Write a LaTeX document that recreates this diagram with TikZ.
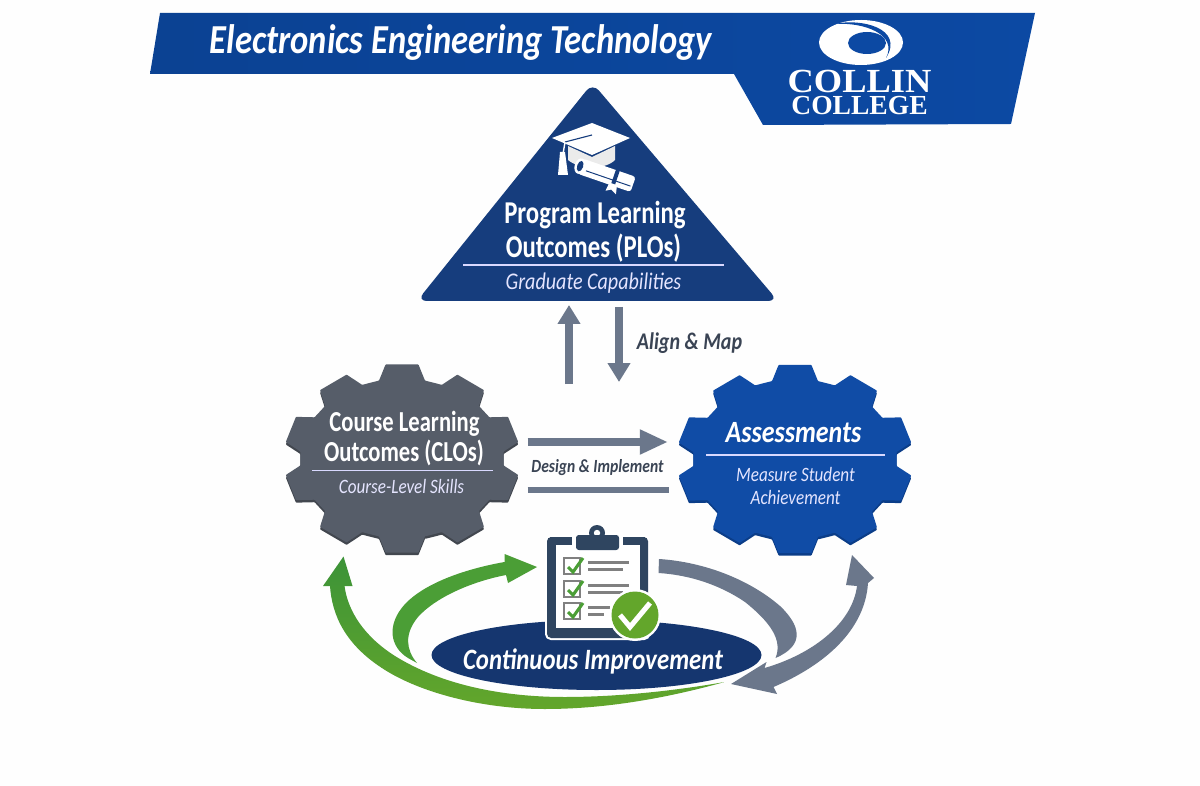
\documentclass[tikz,border=0pt]{standalone}
\usepackage{fontspec}
\setmainfont[FakeStretch=0.84]{Carlito}
\newfontfamily\narrowfont[FakeStretch=0.78]{Carlito}
\newfontfamily\logofont{Liberation Serif}
\newfontfamily\logowidefont[FakeStretch=1.08]{Liberation Serif}
\usetikzlibrary{arrows.meta}

\definecolor{bannerblue}{HTML}{0C49A3}
\definecolor{navyblue}{HTML}{163D7D}
\definecolor{ovalblue}{HTML}{15366F}
\definecolor{geargray}{HTML}{565D69}
\definecolor{gearedgegray}{HTML}{42474F}
\definecolor{gearblue}{HTML}{104CA6}
\definecolor{gearedgeblue}{HTML}{0B3D88}
\definecolor{arrowgray}{HTML}{6B778B}
\definecolor{labelgray}{HTML}{3A4454}
\definecolor{boardgray}{HTML}{2F4560}
\definecolor{leafgreen}{HTML}{4B9E36}
\definecolor{limegreen}{HTML}{63A62B}
\definecolor{darkgreen}{HTML}{3C9338}

% one gear: centre x, centre y, colour
\newcommand{\gearbody}[3]{%
  \fill[#3, rounded corners=0.5pt] ({#1+102*cos(77)},{#2+80*sin(77)})
    \foreach \a in {90,126,...,414} {
      -- ({#1+102*cos(\a-13)},{#2+80*sin(\a-13)})
      -- ({#1+118*cos(\a-8)},{#2+95*sin(\a-8)})
      -- ({#1+118*cos(\a+8)},{#2+95*sin(\a+8)})
      -- ({#1+102*cos(\a+13)},{#2+80*sin(\a+13)})
    } -- cycle;
}

\begin{document}
\begin{tikzpicture}[
  x=0.025cm, y=-0.025cm,
  headtext/.style={text=white, font=\narrowfont\fontsize{22.6}{22.6}\selectfont\bfseries, inner sep=0pt},
  gearhead/.style={text=white, font=\narrowfont\fontsize{20.6}{20.6}\selectfont\bfseries, inner sep=0pt},
  subtext/.style={text=white!90!blue, font=\fontsize{14.5}{14.5}\selectfont\itshape, inner sep=0pt},
  rule/.style={white!85!blue, line width=0.8pt},
  blockarr/.style={arrowgray, line width=5.4pt, -{Triangle[length=13.5pt, width=15.5pt]}},
  arrlabel/.style={text=labelgray, font=\fontsize{13.2}{13.2}\selectfont\bfseries\itshape, inner sep=0pt}
]
\useasboundingbox (0,0) rectangle (1200,786);
\fill[white!99.5!black] (0,0) rectangle (1200,786);

% Banner
\shade[left color=bannerblue!90!black, right color=bannerblue]
  (160,13) -- (1035,13) -- (1011,124) -- (763,125) -- (734,74) -- (150,74) -- cycle;
\node[text=white, inner sep=0pt, font=\fontsize{29.3}{29.3}\selectfont\bfseries\itshape] (title) at (461,43) {Electronics Engineering Technology};

% Logo
\fill[white] (861,42.5) ellipse (42 and 22.5);
\fill[bannerblue] (867,43) ellipse (19 and 11);
\fill[bannerblue] (835,24) .. controls (860,18) and (905,28) .. (886,58) .. controls (898,35) and (865,22) .. cycle;
\node[text=white, inner sep=0pt, align=center, font=\bfseries] (logotext) at (859.5,92.5) {\logowidefont\fontsize{24}{16}\selectfont COLLIN\\[1.6pt]\logofont\fontsize{19.6}{16}\selectfont COLLEGE};

% Triangle
\fill[navyblue, rounded corners=7pt] (592.5,83) -- (778,301) -- (417,301) -- cycle;

% Hat and diploma
\fill[white] (552,138) -- (592,123) -- (630,138) -- (592,155) -- cycle;
\fill[white!92!black] (568,146) -- (592,157) -- (615,146) -- (615,160) .. controls (605,170) and (580,170) .. (568,160) -- cycle;
\draw[navyblue, line width=0.8pt] (592,135) -- (565,142);
\draw[white, line width=1pt] (565,142) -- (563,154);
\fill[white] (560,152) -- (565,152) -- (568,175) -- (558,175) -- cycle;
\begin{scope}[shift={(606,174)}, rotate=-19]
  \fill[white, rounded corners=2pt] (-27,-7) rectangle (29,9);
  \draw[navyblue, line width=0.7pt] (-20,3.5) -- (27,3.5);
  \fill[white] (-27,1) ellipse (5.5 and 8);
  \fill[navyblue] (-27,1) ellipse (3 and 5.5);
  \fill[navyblue] (8,-8) rectangle (12,10);
  \fill[white] (6,7) -- (14,7) -- (16,16) -- (10,13) -- (5,16) -- cycle;
\end{scope}

\node[headtext] (plotop) at (595,215) {Program Learning};
\node[headtext] (plobot) at (593.5,248) {Outcomes (PLOs)};
\draw[rule] (463,265) -- (724,265);
\node[subtext, font=\fontsize{17}{17}\selectfont\itshape] (plosub) at (593.5,283) {Graduate Capabilities};

% Vertical arrows
\coordinate (upfoot) at (569,384);
\coordinate (uptip) at (569,305);
\coordinate (downtop) at (619,307);
\coordinate (downtip) at (619,382);
\draw[blockarr] (upfoot) -- (uptip);
\draw[blockarr] (downtop) -- (downtip);
\node[arrlabel, font=\fontsize{17}{17}\selectfont\bfseries\itshape] (align) at (689.5,343) {Align \& Map};

% Gears
\gearbody{402}{461}{gearedgegray}
\gearbody{402}{458.5}{geargray}
\gearbody{795}{461.5}{gearedgeblue}
\gearbody{795}{459}{gearblue}

% Gear texts
\node[gearhead] (clotop) at (404.5,424) {Course Learning};
\node[gearhead] (clobot) at (404,453) {Outcomes (CLOs)};
\draw[rule] (312,470.5) -- (493,470.5);
\node[subtext] (closub) at (401.5,486) {Course-Level Skills};

\node[headtext, font=\fontsize{22}{22}\selectfont\bfseries\itshape] (assess) at (793.5,433) {Assessments};
\draw[rule] (706,455) -- (885,455);
\node[subtext] (assub1) at (795.5,474) {Measure Student};
\node[subtext] (assub2) at (795.5,497) {Achievement};

% Horizontal arrows
\coordinate (desleft) at (527.5,442);
\coordinate (desright) at (668,442);
\coordinate (barleft) at (527.5,490);
\coordinate (barright) at (668.5,490);
\draw[blockarr, -{Triangle[length=20pt, width=16.5pt]}] (desleft) -- (desright);
\draw[arrowgray, line width=4.6pt] (barleft) -- (barright);
\node[arrlabel] (design) at (597.5,468) {Design \& Implement};

% Oval
\fill[ovalblue] (596.5,655) ellipse (165 and 35);

% Outer green arrow
\shade[top color=darkgreen, bottom color=limegreen]
  (724.5,682) .. controls (660,700) and (600,709) .. (545,709)
  .. controls (480,709) and (420,692) .. (385,670)
  .. controls (345,645) and (332,615) .. (330,586)
  -- (323,586) -- (343.5,556.5) -- (352.5,586) -- (344.5,586)
  .. controls (348,612) and (365,637) .. (395,656)
  .. controls (440,684) and (500,697) .. (565,697)
  .. controls (620,697) and (680,690) .. (724.5,682) -- cycle;

% Inner green arrow
\fill[leafgreen]
  (417,663) -- (408,658)
  .. controls (390,647) and (386,625) .. (405,604)
  .. controls (425,583) and (465,569) .. (504.5,562)
  -- (504.5,554) -- (537,567) -- (508,583) -- (506,575)
  .. controls (470,582) and (435,598) .. (418,617)
  .. controls (404,634) and (406,650) .. (417,663) -- cycle;

% Gray arrows
\fill[arrowgray]
  (659,559) .. controls (705,562) and (750,580) .. (780,606)
  .. controls (800,625) and (806,645) .. (775.5,658)
  .. controls (783,640) and (770,622) .. (745,602)
  .. controls (720,585) and (690,575) .. (658.5,573) -- cycle;
\fill[arrowgray]
  (731,684) -- (766.5,662) -- (764.5,668)
  .. controls (810,655) and (852,625) .. (857,586)
  -- (846,585) -- (852,555) -- (874,578) -- (868,583)
  .. controls (865,630) and (825,665) .. (773.5,687)
  -- (777,694) -- cycle;

% Clipboard
\fill[white, rounded corners=4pt] (545,535) rectangle (650,640);
\fill[boardgray, rounded corners=3pt] (547,537) rectangle (648,638);
\fill[white] (556,545) rectangle (640,628);
\fill[white] (572,532) rectangle (623,552);
\fill[boardgray] (597,533) circle (8);
\fill[white] (597,533) circle (3.2);
\fill[boardgray, rounded corners=2pt] (576,535) rectangle (619,550);
\fill[boardgray] (547,537) ++(3,0) rectangle (572,545);
\fill[boardgray] (623,537) rectangle (645,545);
\foreach \y/\w in {558/629, 581/629, 603/610} {
  \draw[gray, line width=1pt] (564,\y) rectangle (580,\y+16);
  \draw[leafgreen, line width=2.2pt] (568,\y+9) -- (573,\y+14) -- (583,\y);
  \fill[gray] (588,\y+3) rectangle (\w,\y+6);
  \fill[gray] (588,\y+10) rectangle (\w-6,\y+13);
}
\fill[white] (635,615) circle (26);
\fill[limegreen] (635,615) circle (23.5);
\draw[white, line width=3.6pt] (620,615) -- (630,627) -- (650,603);

\node[text=white, inner sep=0pt, font=\fontsize{21}{21}\selectfont\bfseries\itshape] (contimp) at (593,661) {Continuous Improvement};

\end{tikzpicture}
\end{document}
